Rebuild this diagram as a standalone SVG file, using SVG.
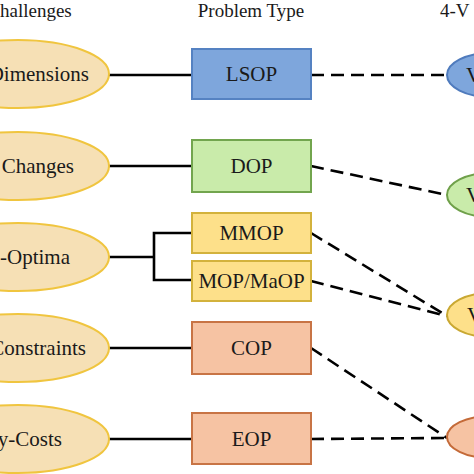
<svg xmlns="http://www.w3.org/2000/svg" width="474" height="474" viewBox="0 0 474 474">
<style>
text{font-family:"Liberation Serif","Times New Roman",serif;fill:#1a1a1a}
.hd{font-size:19px}
.lb{font-size:21px}
.ch{fill:#f6e0b5;stroke:#f0c53f;stroke-width:2}
.solid{stroke:#000;stroke-width:2.6;fill:none}
.dash{stroke:#000;stroke-width:2.6;fill:none;stroke-dasharray:13 7}
.box{stroke-width:2}
</style>
<rect width="474" height="474" fill="#fff"/>
<g id="headers">
<text class="hd" x="0" y="17">hallenges</text>
<text class="hd" x="251" y="17" text-anchor="middle">Problem Type</text>
<text class="hd" x="440" y="17">4-V</text>
</g>
<g id="connectors">
<line class="solid" x1="109" y1="75" x2="192" y2="75"/>
<line class="solid" x1="109" y1="166" x2="192" y2="166"/>
<polyline class="solid" points="109,257 154,257"/>
<polyline class="solid" points="192,233 154,233 154,280 192,280"/>
<line class="solid" x1="109" y1="348" x2="192" y2="348"/>
<line class="solid" x1="109" y1="439" x2="192" y2="439"/>
<line class="dash" x1="311" y1="75" x2="447" y2="75"/>
<line class="dash" x1="311" y1="166" x2="447" y2="195"/>
<line class="dash" x1="311" y1="233" x2="447" y2="316"/>
<line class="dash" x1="311" y1="281" x2="447" y2="316"/>
<line class="dash" x1="311" y1="348" x2="447" y2="438"/>
<line class="dash" x1="311" y1="439" x2="447" y2="438"/>
</g>
<g id="ch1"><ellipse class="ch" cx="18" cy="74" rx="91" ry="34"/><text class="lb" x="89" y="81" text-anchor="end">Dimensions</text></g>
<g id="ch2"><ellipse class="ch" cx="18" cy="166" rx="91" ry="34"/><text class="lb" x="74" y="173" text-anchor="end">Changes</text></g>
<g id="ch3"><ellipse class="ch" cx="18" cy="257" rx="91" ry="34"/><text class="lb" x="70" y="264" text-anchor="end">-Optima</text></g>
<g id="ch4"><ellipse class="ch" cx="18" cy="348" rx="91" ry="34"/><text class="lb" x="86" y="355" text-anchor="end">Constraints</text></g>
<g id="ch5"><ellipse class="ch" cx="18" cy="439" rx="91" ry="34"/><text class="lb" x="62" y="446" text-anchor="end">y-Costs</text></g>
<g id="lsop"><rect class="box" x="192" y="49" width="119" height="50" fill="#7ea6dc" stroke="#5582c2"/><text class="lb" x="251.5" y="81" text-anchor="middle">LSOP</text></g>
<g id="dop"><rect class="box" x="192" y="140" width="119" height="52" fill="#c9ebaa" stroke="#72a54e"/><text class="lb" x="251.5" y="173" text-anchor="middle">DOP</text></g>
<g id="mmop"><rect class="box" x="192" y="213" width="119" height="40" fill="#fde08a" stroke="#d3b23c"/><text class="lb" x="251.5" y="240" text-anchor="middle">MMOP</text></g>
<g id="mop"><rect class="box" x="192" y="261" width="119" height="40" fill="#fde08a" stroke="#d3b23c"/><text class="lb" x="251.5" y="288" text-anchor="middle">MOP/MaOP</text></g>
<g id="cop"><rect class="box" x="192" y="322" width="119" height="52" fill="#f6c3a3" stroke="#c87445"/><text class="lb" x="251.5" y="355" text-anchor="middle">COP</text></g>
<g id="eop"><rect class="box" x="192" y="413" width="119" height="51" fill="#f6c3a3" stroke="#c87445"/><text class="lb" x="251.5" y="446" text-anchor="middle">EOP</text></g>
<g id="v1"><ellipse cx="490" cy="75" rx="43" ry="22" fill="#7ea6dc" stroke="#4f7bbd" stroke-width="2"/><text class="lb" x="466" y="82">V</text></g>
<g id="v2"><ellipse cx="490" cy="195" rx="43" ry="22" fill="#c9ebaa" stroke="#6fa04a" stroke-width="2"/><text class="lb" x="466" y="202">V</text></g>
<g id="v3"><ellipse cx="490" cy="315" rx="43" ry="22" fill="#fde08a" stroke="#c9a832" stroke-width="2"/><text class="lb" x="467" y="322">V</text></g>
<g id="v4"><ellipse cx="490" cy="437" rx="43" ry="21" fill="#f6c3a3" stroke="#c46a38" stroke-width="2"/></g>
</svg>
